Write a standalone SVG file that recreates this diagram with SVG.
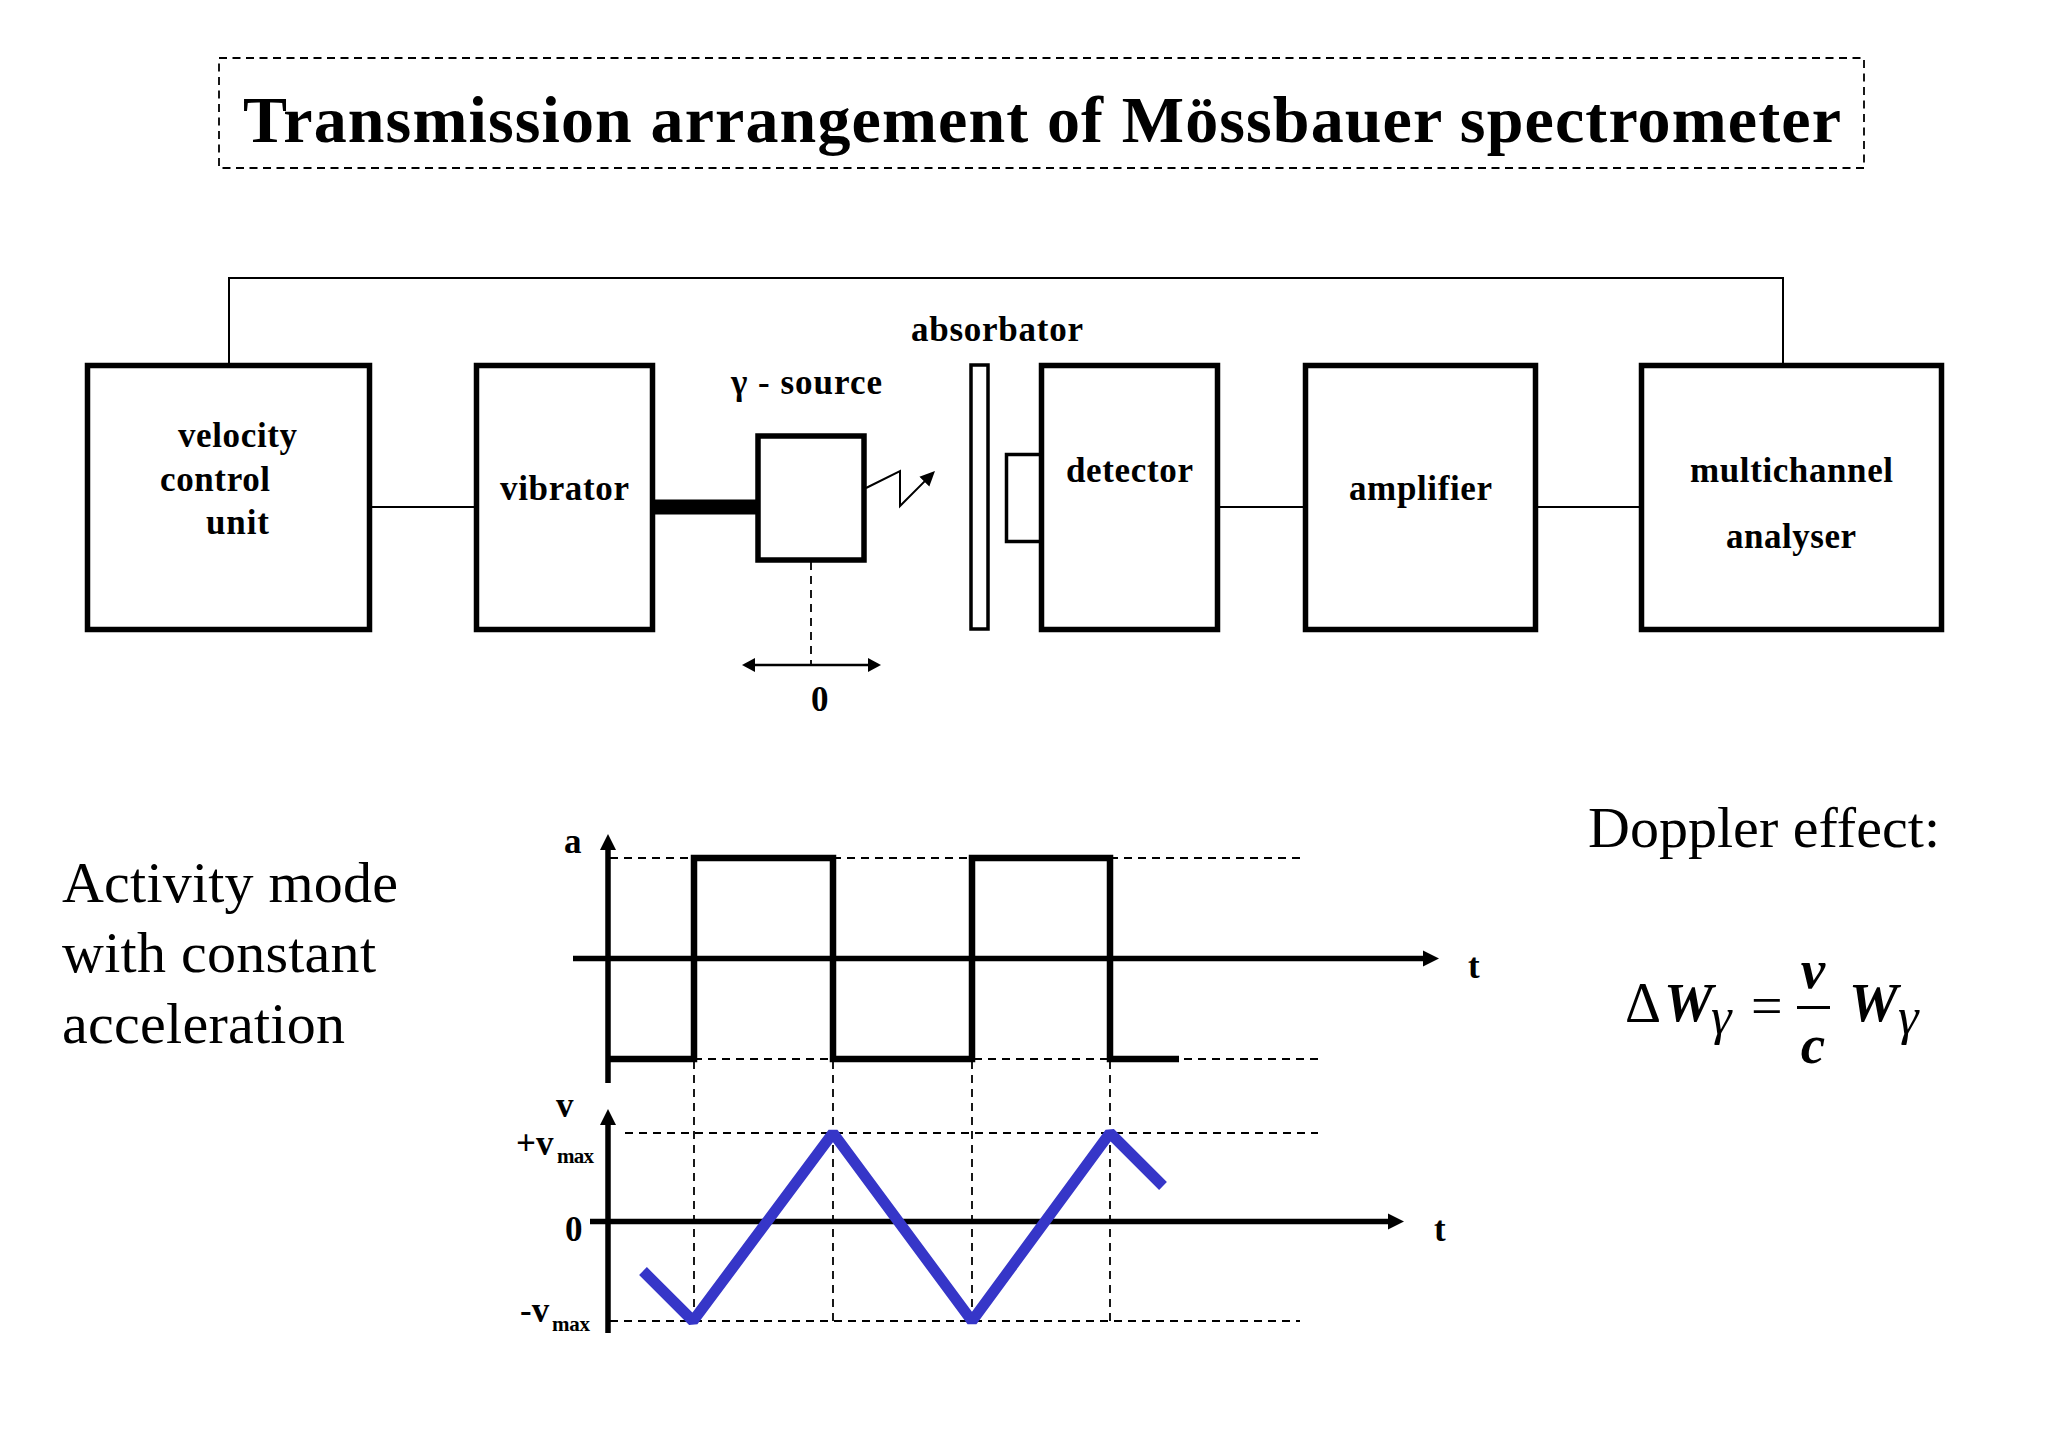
<svg xmlns="http://www.w3.org/2000/svg" width="2048" height="1447" viewBox="0 0 2048 1447">
<style>
text{font-family:"Liberation Serif","Times New Roman",serif;fill:#000}
.l{font-size:35px;font-weight:bold}
.t{font-size:58px}
.box{fill:#fff;stroke:#000;stroke-width:5.500}
.thin{fill:none;stroke:#000;stroke-width:2}
.dash{fill:none;stroke:#000;stroke-width:1.800;stroke-dasharray:8 6}
.axis{fill:none;stroke:#000;stroke-width:5.500}
.wave{fill:none;stroke:#000;stroke-width:6.500}
.sub{font-size:21px;font-weight:bold}
.eq{font-size:55px;font-weight:bold;font-style:italic}
.gam{font-size:52px;font-style:italic}
</style>
<defs>
<marker id="big" markerUnits="userSpaceOnUse" markerWidth="18" markerHeight="18" refX="6" refY="9" orient="auto"><path d="M0 1L16 9L0 17Z" fill="#000"/></marker>
<marker id="mid" markerUnits="userSpaceOnUse" markerWidth="16" markerHeight="16" refX="6" refY="8" orient="auto-start-reverse"><path d="M0 1L13 8L0 15Z" fill="#000"/></marker>
<marker id="sm" markerUnits="userSpaceOnUse" markerWidth="16" markerHeight="16" refX="6" refY="8" orient="auto"><path d="M0 1L15 8L0 15Z" fill="#000"/></marker>
</defs>
<rect width="2048" height="1447" fill="#fff"/>
<g id="connectors">
<path class="thin" d="M229 363V278H1783V363"/>
<path class="thin" d="M372 507H475M1220 507H1304M1538 507H1640"/>
<path d="M653 507H758" fill="none" stroke="#000" stroke-width="15"/>
<path class="thin" d="M866 488L900 471V506L928.600 477.400" marker-end="url(#sm)"/>
<path class="dash" d="M811 562V665" stroke-dasharray="9 6"/>
<path d="M749 665H874" fill="none" stroke="#000" stroke-width="2.500" marker-start="url(#mid)" marker-end="url(#mid)"/>
</g>
<g id="title"><rect x="219" y="58" width="1645" height="110" fill="none" stroke="#000" stroke-width="1.800" stroke-dasharray="8 5.500"/>
<text x="243" y="142" font-size="66" font-weight="bold" textLength="1598" lengthAdjust="spacing">Transmission arrangement of Mössbauer spectrometer</text></g>
<g id="velocity-control-unit"><rect class="box" x="87.500" y="365.500" width="282" height="264"/>
<text class="l" x="178" y="447" textLength="119">velocity</text>
<text class="l" x="160" y="491" textLength="110">control</text>
<text class="l" x="206" y="534" textLength="63">unit</text></g>
<g id="vibrator"><rect class="box" x="476.500" y="365.500" width="176" height="264"/>
<text class="l" x="500" y="500" textLength="129">vibrator</text></g>
<g id="source"><rect class="box" x="758" y="436" width="106" height="124"/>
<text class="l" x="731" y="394" textLength="151">γ - source</text>
<text class="l" x="811" y="711" textLength="17">0</text></g>
<g id="absorbator"><rect x="971" y="365" width="17" height="264" fill="#fff" stroke="#000" stroke-width="3.500"/>
<text class="l" x="911" y="341" textLength="172">absorbator</text></g>
<g id="detector"><rect x="1006.500" y="454.500" width="36" height="87" fill="#fff" stroke="#000" stroke-width="3.500"/>
<rect class="box" x="1041.500" y="365.500" width="176" height="264"/>
<text class="l" x="1066" y="482" textLength="127">detector</text></g>
<g id="amplifier"><rect class="box" x="1305.500" y="365.500" width="230" height="264"/>
<text class="l" x="1349" y="500" textLength="143">amplifier</text></g>
<g id="multichannel-analyser"><rect class="box" x="1641.500" y="365.500" width="300" height="264"/>
<text class="l" x="1690" y="482" textLength="203">multichannel</text>
<text class="l" x="1726" y="548" textLength="130">analyser</text></g>
<g id="activity-mode">
<text class="t" x="62" y="902" textLength="336">Activity mode</text>
<text class="t" x="62" y="972" textLength="314">with constant</text>
<text class="t" x="62" y="1043" textLength="283">acceleration</text></g>
<g id="doppler">
<text class="t" x="1588" y="847" textLength="352">Doppler effect:</text>
<text x="1625" y="1022" font-size="56">Δ</text>
<text class="eq" x="1664" y="1021">W</text>
<text class="gam" x="1711" y="1034">γ</text>
<text x="1751" y="1025" font-size="56">=</text>
<path d="M1797 1007.500H1830" stroke="#000" stroke-width="3"/>
<text class="eq" x="1813" y="988" text-anchor="middle">v</text>
<text class="eq" x="1813" y="1063" text-anchor="middle">c</text>
<text class="eq" x="1849" y="1021">W</text>
<text class="gam" x="1898" y="1034">γ</text></g>
<g id="acceleration-plot">
<path class="dash" d="M610 858H694M833 858H972M1110 858H1300M694 1059H1318"/>
<path class="axis" d="M608 1083V844" marker-end="url(#big)"/>
<path class="axis" d="M573 958.500H1429" marker-end="url(#big)"/>
<path class="wave" d="M608 1059H694V858H833V1059H972V858H1110V1059H1179" stroke-linejoin="miter"/>
<text class="l" x="564" y="853">a</text>
<text class="l" x="1468" y="978">t</text></g>
<g id="velocity-plot">
<path class="dash" d="M625 1133H1318M610 1321H1300M694 1061V1321M833 1061V1321M972 1061V1321M1110 1061V1321"/>
<path class="axis" d="M608 1333V1119" marker-end="url(#big)"/>
<path class="axis" d="M590 1221.500H1394" marker-end="url(#big)"/>
<path d="M643 1271L693 1321L833 1133L972 1321L1110 1133L1163 1186" fill="none" stroke="#3636c8" stroke-width="11" stroke-linejoin="bevel"/>
<text class="l" x="556" y="1117">v</text>
<text class="l" x="516" y="1155">+v</text>
<text class="sub" x="557" y="1163" textLength="37">max</text>
<text class="l" x="565" y="1241">0</text>
<text class="l" x="520" y="1322">-v</text>
<text class="sub" x="552" y="1331" textLength="38">max</text>
<text class="l" x="1434" y="1241">t</text></g>
</svg>
